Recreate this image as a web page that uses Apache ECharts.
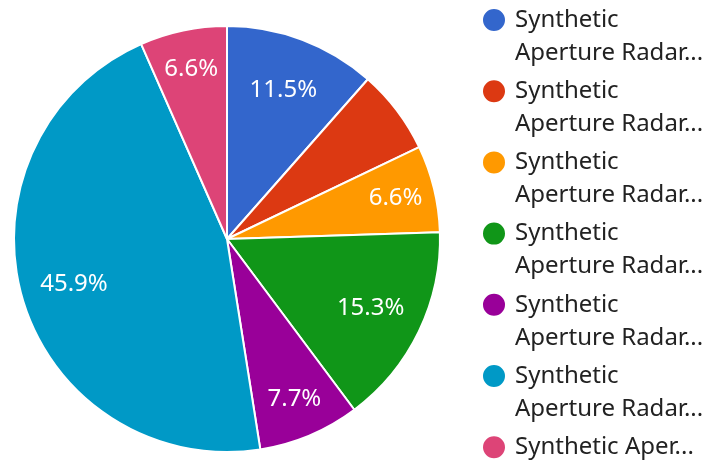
<!DOCTYPE html>
<html><head><meta charset="utf-8">
<script src="https://cdn.jsdelivr.net/npm/echarts@6/dist/echarts.min.js"></script>
<style>html,body{margin:0;padding:0;background:#fff}#c{width:706px;height:461px}</style>
</head><body><div id="c"></div>
<script>
var categories = ["Synthetic Aperture Radar 1","Synthetic Aperture Radar 2","Synthetic Aperture Radar 3","Synthetic Aperture Radar 4","Synthetic Aperture Radar 5","Synthetic Aperture Radar 6","Synthetic Aperture Radar 7"];
var legendLabels = ["Synthetic\nAperture Radar...","Synthetic\nAperture Radar...","Synthetic\nAperture Radar...","Synthetic\nAperture Radar...","Synthetic\nAperture Radar...","Synthetic\nAperture Radar...","Synthetic Aper..."];
var values = [11.5, 6.4, 6.6, 15.3, 7.7, 45.9, 6.6];
var showLabel = [true, false, true, true, true, true, true];
var colors = ["#3366cc","#dc3912","#ff9900","#109618","#990099","#0099c6","#dd4477"];

var chart = echarts.init(document.getElementById('c'));
var font = '"Noto Sans", "Open Sans", sans-serif';
var FS = 24, LH = 33;
var legends = categories.map(function(n,i){
  var lines = legendLabels[i].split('\n').map(function(s){return '\u2009' + s;});
  var multi = lines.length > 1;
  var centerY = 20 + i*71.2;
  return {
    orient:'vertical', left:481, top: multi ? centerY - 1.5*LH : centerY - 0.5*LH, padding:0,
    icon:'circle', itemWidth:24, itemHeight:24,
    data:[{name:n}],
    formatter: function(){ return multi ? '\u00a0\n' + lines.join('\n') : lines.join('\n'); },
    textStyle:{fontFamily:font, fontSize:FS, lineHeight:LH, color:'#222'}
  };
});
function pct(p){return p.value.toFixed(1)+'%';}
var total = values.reduce(function(a,b){return a+b;},0);
// big slices get labels nearer the centre, small ones nearer the rim
var bigData = categories.map(function(n,i){return {name:n, value:values[i], label:{show:showLabel[i] && values[i]/total > 0.1}};});
var smallData = categories.map(function(n,i){return {name:n, value:values[i], label:{show:showLabel[i] && values[i]/total <= 0.1}};});
var labelSeries = function(data, r0){
  return {
    type:'pie', center:[227,239], radius:[r0,213], startAngle:90, clockwise:true, silent:true,
    data:data, legendHoverLink:false,
    itemStyle:{color:'rgba(0,0,0,0)', borderWidth:0},
    label:{position:'inside', formatter:pct, color:'#fff', fontFamily:font, fontSize:FS},
    labelLine:{show:false}
  };
};
chart.setOption({
  animation:false,
  color: colors,
  legend: legends,
  series: [{
    type:'pie', center:[227,239], radius:[0,213], startAngle:90, clockwise:true,
    data: categories.map(function(n,i){return {name:n, value:values[i]};}),
    label:{show:false}, labelLine:{show:false},
    itemStyle:{borderColor:'#fff', borderWidth:2}
  }, labelSeries(bigData, 100), labelSeries(smallData, 128)]
});
</script></body></html>
